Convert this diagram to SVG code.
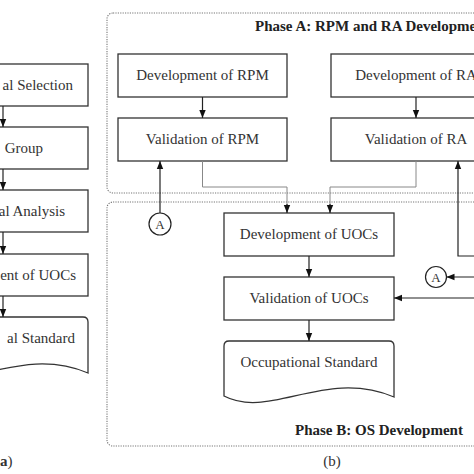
<svg xmlns="http://www.w3.org/2000/svg" width="474" height="474" viewBox="0 0 474 474">
<style>
text{font-family:"Liberation Serif","Times New Roman",serif;font-size:15px;fill:#333}
.box{fill:#fff;stroke:#333;stroke-width:1.3}
.ph{fill:none;stroke:#777;stroke-width:1.1;stroke-dasharray:1.2 1.2}
.c{fill:none;stroke:#222;stroke-width:1.2}
.g{fill:none;stroke:#888;stroke-width:1}
.t{font-weight:bold;fill:#222}
.m{text-anchor:middle}
.e{text-anchor:end}
</style>
<defs>
<marker id="ah" viewBox="0 0 10 10" refX="10" refY="5" markerWidth="8" markerHeight="8" markerUnits="userSpaceOnUse" orient="auto"><path d="M0,1 L10,5 L0,9 z" fill="#111"/></marker>
<path id="doc" d="M224,346 Q224,341 229,341 H389 Q394,341 394,346 V397 C325,368 270,420 224,396 Z"/>
</defs>
<g id="phaseA"><rect class="ph" x="107" y="13" width="400" height="180" rx="6"/><text class="t" x="255" y="31">Phase A: RPM and RA Developme</text></g>
<g id="phaseB"><rect class="ph" x="107" y="202" width="400" height="244" rx="6"/><text class="t" x="295" y="435">Phase B: OS Development</text></g>
<g id="a1"><rect class="box" x="-82" y="64" width="170" height="42"/><text class="e" x="73" y="90">al Selection</text></g>
<g id="a2"><rect class="box" x="-82" y="127" width="170" height="42"/><text class="e" x="43" y="153">Group</text></g>
<g id="a3"><rect class="box" x="-82" y="190" width="170" height="42"/><text class="e" x="65" y="216">al Analysis</text></g>
<g id="a4"><rect class="box" x="-82" y="254" width="170" height="42"/><text class="e" x="76" y="280">ent of UOCs</text></g>
<g id="a5"><use href="#doc" class="box" transform="translate(-306,-24)"/><text class="e" x="75" y="343">al Standard</text></g>
<g id="devRPM"><rect class="box" x="118" y="54" width="169" height="43"/><text class="m" x="202.5" y="80">Development of RPM</text></g>
<g id="valRPM"><rect class="box" x="118" y="118" width="169" height="43"/><text class="m" x="202.5" y="144">Validation of RPM</text></g>
<g id="devRA"><rect class="box" x="331" y="54" width="170" height="43"/><text class="m" x="416" y="80">Development of RA</text></g>
<g id="valRA"><rect class="box" x="331" y="118" width="170" height="43"/><text class="m" x="416" y="144">Validation of RA</text></g>
<g id="devUOC"><rect class="box" x="224" y="213" width="170" height="43"/><text class="m" x="309" y="239">Development of UOCs</text></g>
<g id="valUOC"><rect class="box" x="224" y="277" width="170" height="43"/><text class="m" x="309" y="303">Validation of UOCs</text></g>
<g id="os"><use href="#doc" class="box"/><text class="m" x="309" y="367">Occupational Standard</text></g>
<g id="circA1"><circle cx="160" cy="224" r="11" fill="#fff" stroke="#222" stroke-width="1.2"/><text class="m" x="160" y="229" style="font-size:13px">A</text></g>
<g id="circA2"><circle cx="436" cy="277" r="10.5" fill="#fff" stroke="#222" stroke-width="1.2"/><text class="m" x="436" y="282" style="font-size:13px">A</text></g>
<g id="connectors">
<path class="c" d="M3,106 V127" marker-end="url(#ah)"/>
<path class="c" d="M3,169 V190" marker-end="url(#ah)"/>
<path class="c" d="M3,232 V254" marker-end="url(#ah)"/>
<path class="c" d="M3,296 V317" marker-end="url(#ah)"/>
<path class="c" d="M202.5,97 V118" marker-end="url(#ah)"/>
<path class="c" d="M416,97 V118" marker-end="url(#ah)"/>
<path class="g" d="M202.5,161 V187 H287 V205"/>
<path class="c" d="M287,204 V213" marker-end="url(#ah)"/>
<path class="g" d="M416,161 V187 H330 V205"/>
<path class="c" d="M330,204 V213" marker-end="url(#ah)"/>
<path class="c" d="M160,213 V161" marker-end="url(#ah)"/>
<path class="c" d="M480,256 H458 V161" marker-end="url(#ah)"/>
<path class="c" d="M480,277 H446.5" marker-end="url(#ah)"/>
<path class="c" d="M480,298 H394" marker-end="url(#ah)"/>
<path class="c" d="M309,256 V277" marker-end="url(#ah)"/>
<path class="c" d="M309,320 V341" marker-end="url(#ah)"/>
</g>
<text x="0" y="466"><tspan font-weight="bold">a</tspan>)</text>
<text class="m" x="332" y="466">(b)</text>
</svg>
